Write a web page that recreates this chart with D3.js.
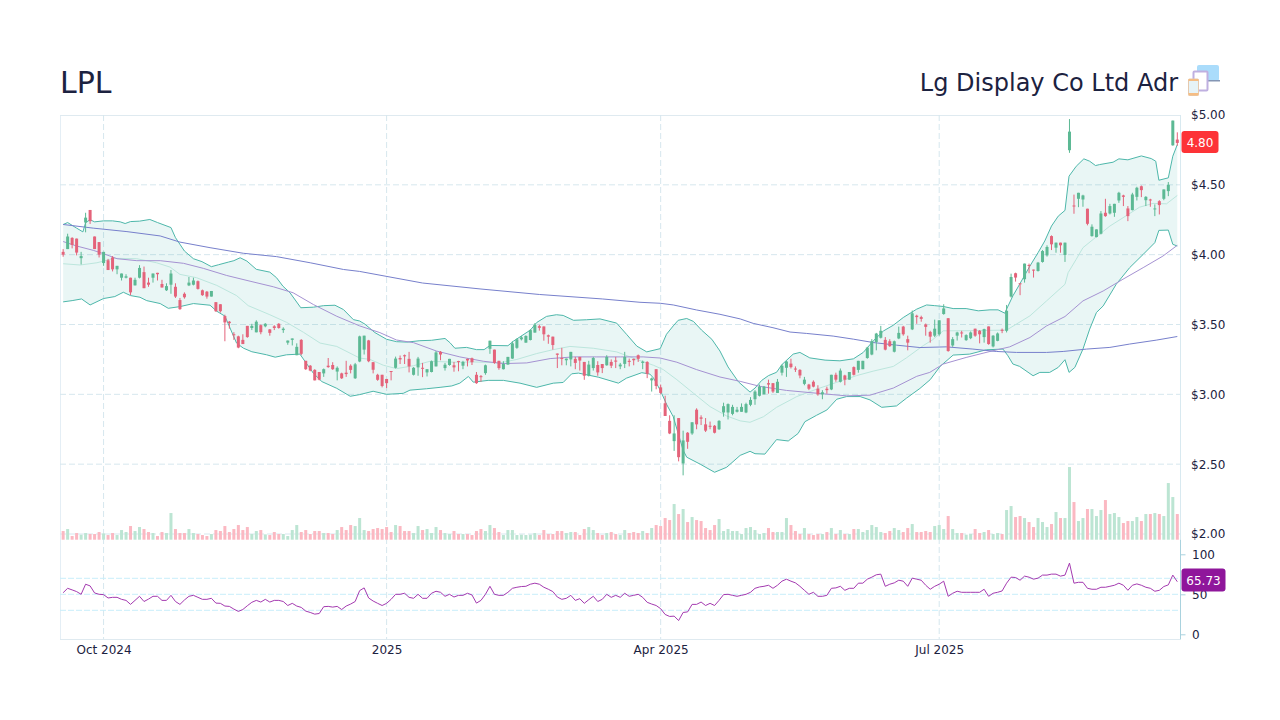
<!DOCTYPE html>
<html><head><meta charset="utf-8">
<script src="https://cdnjs.cloudflare.com/ajax/libs/d3/7.8.5/d3.min.js"></script>
<style>
html,body{margin:0;padding:0;background:#fff}
svg{display:block}
text{font-family:"DejaVu Sans",sans-serif}
</style></head><body>
<svg id="c" width="1280" height="720"></svg>
<script>
const symbol = "LPL";
const company = "Lg Display Co Ltd Adr";
const lastPrice = "4.80";
const lastRsi = "65.73";
const priceTicks = [5, 4.5, 4, 3.5, 3, 2.5, 2];
const rsiTicks = [100, 50, 0];
const rsiBands = [70, 50, 30];
const timeTickIndex = [9, 72, 133, 195];
const timeTickLabels = ["Oct 2024", "2025", "Apr 2025", "Jul 2025"];

const opens = [
4.02,4.04,4.12,4.115,3.975,4.23,4.32,4.13,4.09,3.94,
3.96,3.98,3.895,3.835,3.835,3.835,3.78,3.835,3.875,3.80,
3.835,3.87,3.79,3.745,3.785,3.77,3.675,3.72,3.78,3.785,
3.81,3.745,3.735,3.70,3.66,3.645,3.56,3.52,3.43,3.415,
3.39,3.49,3.475,3.444,3.495,3.487,3.465,3.487,3.505,3.46,
3.37,3.39,3.28,3.39,3.24,3.205,3.175,3.16,3.15,3.205,
3.21,3.163,3.15,3.155,3.205,3.115,3.235,3.32,3.386,3.23,
3.14,3.14,3.11,3.167,3.19,3.26,3.28,3.254,3.14,3.193,
3.19,3.157,3.16,3.20,3.304,3.188,3.21,3.208,3.238,3.205,
3.254,3.258,3.14,3.13,3.152,3.326,3.32,3.24,3.18,3.213,
3.256,3.333,3.394,3.37,3.389,3.442,3.488,3.486,3.423,3.413,
3.292,3.26,3.244,3.25,3.254,3.268,3.232,3.133,3.188,3.21,
3.217,3.208,3.232,3.242,3.20,3.218,3.24,3.254,3.28,3.225,
3.232,3.10,3.18,3.05,2.936,2.81,2.665,2.83,2.505,2.725,
2.72,2.89,2.835,2.785,2.775,2.775,2.75,2.87,2.87,2.86,
2.875,2.875,2.87,2.925,2.965,2.99,3.00,3.08,3.08,3.01,
3.155,3.19,3.22,3.185,3.175,3.075,3.07,3.09,3.04,3.00,
3.04,3.035,3.14,3.09,3.135,3.105,3.195,3.175,3.18,3.26,
3.285,3.375,3.405,3.39,3.38,3.305,3.40,3.485,3.395,3.465,
3.563,3.553,3.50,3.447,3.42,3.43,3.575,3.545,3.35,3.42,
3.443,3.388,3.402,3.47,3.455,3.41,3.486,3.343,3.383,3.462,
3.455,3.70,3.867,3.795,3.824,3.926,3.893,3.883,3.948,3.995,
4.133,4.05,4.086,3.998,4.748,4.352,4.40,4.395,4.329,4.133,
4.126,4.15,4.30,4.295,4.30,4.388,4.424,4.331,4.319,4.414,
4.49,4.39,4.395,4.324,4.383,4.40,4.455,4.783,4.824];
const closes = [
4.00,4.13,4.07,4.015,3.99,4.265,4.24,4.04,4.00,4.02,
3.89,3.895,3.92,3.865,3.845,3.73,3.82,3.905,3.76,3.785,
3.865,3.86,3.765,3.775,3.865,3.70,3.61,3.695,3.80,3.815,
3.755,3.71,3.70,3.74,3.595,3.595,3.515,3.51,3.425,3.335,
3.36,3.41,3.49,3.52,3.445,3.505,3.44,3.475,3.475,3.47,
3.385,3.40,3.34,3.29,3.18,3.17,3.10,3.105,3.18,3.195,
3.18,3.19,3.115,3.145,3.175,3.215,3.415,3.42,3.237,3.176,
3.104,3.06,3.08,3.16,3.256,3.25,3.272,3.20,3.19,3.256,
3.183,3.18,3.237,3.30,3.285,3.212,3.254,3.193,3.232,3.232,
3.242,3.23,3.08,3.123,3.208,3.384,3.225,3.188,3.217,3.268,
3.365,3.394,3.408,3.418,3.46,3.498,3.476,3.43,3.413,3.353,
3.283,3.254,3.256,3.304,3.225,3.242,3.133,3.213,3.26,3.157,
3.188,3.268,3.205,3.234,3.213,3.268,3.232,3.244,3.254,3.234,
3.147,3.114,3.06,3.01,2.845,2.72,2.72,2.55,2.67,2.66,
2.80,2.785,2.825,2.74,2.77,2.725,2.81,2.915,2.93,2.91,
2.89,2.91,2.93,2.96,3.02,3.055,3.055,3.07,3.02,3.09,
3.205,3.235,3.195,3.177,3.135,3.105,3.04,3.055,3.00,3.015,
3.03,3.14,3.105,3.17,3.105,3.16,3.14,3.24,3.24,3.335,
3.38,3.435,3.455,3.32,3.345,3.38,3.44,3.43,3.37,3.58,
3.553,3.54,3.483,3.413,3.47,3.53,3.615,3.31,3.395,3.443,
3.436,3.424,3.443,3.42,3.43,3.467,3.36,3.42,3.436,3.455,
3.598,3.84,3.836,3.788,3.936,3.919,3.886,3.943,4.026,4.055,
4.074,4.086,4.067,4.086,4.881,4.348,4.443,4.424,4.221,4.20,
4.181,4.295,4.276,4.348,4.364,4.443,4.414,4.276,4.431,4.479,
4.462,4.414,4.39,4.331,4.355,4.467,4.50,4.96,4.80];
const highs = [
4.04,4.15,4.125,4.115,4.02,4.30,4.32,4.13,4.09,4.02,
3.97,3.99,3.92,3.865,3.86,3.835,3.835,3.925,3.915,3.835,
3.865,3.87,3.82,3.795,3.89,3.795,3.69,3.73,3.84,3.835,
3.815,3.75,3.74,3.74,3.66,3.645,3.57,3.525,3.445,3.42,
3.43,3.49,3.505,3.53,3.50,3.51,3.467,3.495,3.51,3.48,
3.385,3.40,3.365,3.395,3.24,3.21,3.18,3.16,3.185,3.26,
3.23,3.20,3.155,3.24,3.215,3.225,3.42,3.42,3.39,3.232,
3.147,3.14,3.11,3.167,3.27,3.278,3.285,3.304,3.195,3.268,
3.225,3.18,3.242,3.31,3.31,3.225,3.254,3.232,3.24,3.24,
3.256,3.263,3.16,3.138,3.213,3.384,3.32,3.24,3.237,3.268,
3.38,3.40,3.418,3.423,3.466,3.51,3.498,3.486,3.428,3.413,
3.292,3.333,3.256,3.304,3.268,3.268,3.232,3.24,3.268,3.237,
3.217,3.28,3.25,3.268,3.225,3.304,3.256,3.256,3.285,3.242,
3.237,3.12,3.18,3.07,2.99,2.85,2.85,2.83,2.74,2.73,
2.80,2.90,2.85,2.83,2.805,2.78,2.815,2.94,2.935,2.925,
2.91,2.935,2.94,2.98,3.03,3.07,3.06,3.105,3.08,3.11,
3.215,3.24,3.255,3.20,3.18,3.125,3.075,3.10,3.065,3.03,
3.055,3.14,3.155,3.185,3.14,3.16,3.20,3.24,3.24,3.34,
3.395,3.44,3.49,3.41,3.395,3.385,3.485,3.49,3.42,3.60,
3.57,3.563,3.507,3.455,3.535,3.53,3.645,3.545,3.41,3.448,
3.455,3.43,3.45,3.47,3.46,3.47,3.486,3.424,3.443,3.471,
3.64,3.864,3.871,3.795,3.936,3.936,3.893,3.948,4.033,4.067,
4.138,4.086,4.086,4.086,4.971,4.43,4.443,4.429,4.329,4.217,
4.181,4.312,4.40,4.364,4.364,4.45,4.429,4.348,4.443,4.486,
4.495,4.419,4.40,4.36,4.39,4.467,4.52,4.96,4.876];
const lows = [
3.985,4.04,4.045,3.995,3.93,4.16,4.22,4.04,3.98,3.92,
3.89,3.88,3.86,3.815,3.83,3.71,3.78,3.83,3.76,3.77,
3.80,3.815,3.765,3.74,3.72,3.69,3.605,3.685,3.775,3.78,
3.75,3.705,3.685,3.70,3.59,3.585,3.38,3.47,3.39,3.33,
3.36,3.405,3.46,3.444,3.43,3.48,3.42,3.46,3.47,3.44,
3.355,3.35,3.28,3.28,3.175,3.165,3.10,3.10,3.125,3.19,
3.175,3.10,3.11,3.125,3.15,3.11,3.23,3.285,3.23,3.15,
3.097,3.05,3.045,3.10,3.185,3.217,3.217,3.157,3.135,3.133,
3.123,3.128,3.157,3.20,3.244,3.17,3.205,3.162,3.165,3.18,
3.20,3.21,3.075,3.09,3.14,3.29,3.218,3.176,3.178,3.212,
3.254,3.326,3.386,3.37,3.386,3.442,3.456,3.384,3.362,3.32,
3.188,3.208,3.208,3.20,3.18,3.17,3.104,3.128,3.17,3.133,
3.152,3.205,3.188,3.188,3.18,3.188,3.20,3.208,3.232,3.18,
3.116,3.02,3.036,3.00,2.845,2.715,2.595,2.52,2.42,2.61,
2.71,2.75,2.78,2.73,2.75,2.72,2.745,2.84,2.82,2.85,
2.87,2.875,2.865,2.915,2.925,2.985,3.00,3.005,3.01,3.01,
3.135,3.125,3.185,3.16,3.115,3.065,3.03,3.05,2.99,2.965,
3.005,3.03,3.09,3.085,3.065,3.105,3.135,3.155,3.18,3.255,
3.28,3.315,3.40,3.315,3.34,3.30,3.395,3.42,3.315,3.46,
3.505,3.52,3.42,3.37,3.41,3.42,3.57,3.305,3.34,3.385,
3.407,3.383,3.395,3.412,3.365,3.37,3.355,3.336,3.38,3.438,
3.443,3.693,3.807,3.71,3.80,3.867,3.836,3.879,3.943,3.986,
4.033,4.014,4.014,3.948,4.729,4.293,4.34,4.343,4.21,4.129,
4.124,4.145,4.271,4.288,4.271,4.371,4.348,4.24,4.317,4.388,
4.412,4.348,4.343,4.276,4.288,4.39,4.419,4.78,4.78];
const volumes = [
26,32,11,20,15,20,17,17,23,19,
14,20,14,29,23,41,26,38,32,23,
20,11,23,20,80,32,20,20,32,20,
17,14,11,17,29,26,41,23,32,44,
29,38,17,26,29,16,14,23,17,17,
11,29,44,23,29,17,26,26,20,20,
17,29,38,29,44,41,65,29,26,32,
35,32,38,23,44,41,26,26,20,41,
29,32,20,38,29,20,17,26,17,17,
17,14,26,32,26,44,35,23,14,29,
29,14,15,14,15,20,14,29,17,17,
26,26,20,23,23,14,32,38,29,20,
14,20,23,17,14,29,20,23,20,26,
20,35,44,41,65,59,107,77,92,53,
68,59,56,35,29,44,62,26,32,26,
26,17,35,38,29,17,20,35,23,23,
23,65,44,26,17,35,17,14,17,17,
23,35,17,29,17,17,32,32,23,29,
44,38,23,20,26,35,29,23,35,47,
23,23,26,23,41,44,32,71,32,20,
20,15,17,32,20,23,29,17,20,17,
89,101,68,71,65,53,38,65,53,38,
47,83,65,65,218,113,56,65,92,92,
71,89,119,77,80,68,50,56,56,68,
56,77,77,80,77,71,170,128,77];
const rsi = [
52,57.5,55.5,53.4,50,62.6,60.5,51.7,50,49.6,
45.4,46.2,46.2,43.7,42.4,37.4,42.4,47.5,41,44,
47.5,47.5,42.4,42.4,48.7,41,37.4,42.9,47.5,48.7,
46.2,43.7,43.7,45,39,38.7,35.3,34.9,31.5,28.6,
31,35.7,40,42.4,40.3,43.7,40.3,42.4,42.4,41,
36,38.7,35.3,33.6,29,27.3,25.2,26,34.5,34.9,
34,34.9,31,35.3,37.8,41,54.6,58,45.4,41.6,
38.7,36,38.7,43.7,50,50,51.3,46.2,45,50,
45,45,51.3,53.8,52.5,47.5,50,46.6,48.7,48.7,
51.3,49.2,39,42.4,50,60,50,48.7,48.7,52.5,
57.5,58.8,59.7,60,62.6,63.9,62.6,58.8,56.3,53.4,
46.6,43.7,45,48.7,42.4,44.5,38.7,43.3,47.5,41,
43.7,50,46.2,48.7,46.2,51.3,47.5,48.7,50,46.2,
40,37.8,36,32,24.8,22.3,22.7,17.2,27.3,28,
37.4,37.4,40.3,36,38.7,36,42.4,49.6,50,48.7,
47.5,48.7,50,52.5,57.5,59.2,60,61.3,57.5,61.3,
66.4,68.9,66.4,64.3,60,55,50,52.5,47.5,47.5,
48.7,57.5,58,60,55,57.5,57.5,63.9,63.9,68.9,
71.4,74.4,75.2,60,62.6,64.3,67.6,66.4,60,70.2,
68.9,67.6,61.3,56.3,60,62.6,66.4,47.5,51.3,53.8,
52.5,52.5,52.5,52.5,52.5,56.3,47.5,51.3,52.5,54.2,
63.9,71.4,71,67.6,72.7,71.4,68.9,70.2,74,74,
75.2,75.2,72.7,74,89,63.9,65,65,57.5,56.3,
56.3,58.8,58.8,60,61.3,63.9,61.3,55,61.3,63,
61.3,58.8,57.5,53.8,55,59.7,61.8,74,65.73];

const bbUpperAt = [0,1,2,3,4.4,5,6,7,9,11,12.7,13.8,15,17,19.3,21,24,25,27,29,30.9,33,34.6,36.8,38,39.4,40.9,43,46,47.5,48.9,50.5,52.9,55.7,58,60.5,62.4,64.6,66,67.2,69.4,72,74.2,76.5,79.4,82,85,86.1,87.2,89.8,92,93.7,95,99,100.2,104,105.4,107.6,109.8,111.3,113.6,116.5,119.5,123.2,125.4,127.7,129.9,132.9,134.3,135.8,136.9,138.8,140.3,142.1,144.4,146.2,148,150.3,152.9,154,155.5,157,158.8,160,162.5,164,166.2,169.6,172.9,175.9,178.1,180.3,182.6,184.8,187,190,192.2,194,195.9,198.1,201,203.7,206.3,208.1,209.6,210,211.4,212.9,215.2,217,218.5,220,221.5,223,223.9,225.5,227.2,228.5,229.8,230.7,233.7,235,237,240,242.2,243.2,243.9,246,247,248];
const bbUpper = [4.216,4.23,4.21,4.19,4.163,4.23,4.25,4.235,4.242,4.242,4.235,4.223,4.237,4.24,4.252,4.23,4.194,4.122,4.026,3.971,3.95,3.914,3.928,3.947,3.957,3.978,3.954,3.895,3.875,3.835,3.775,3.727,3.62,3.624,3.635,3.638,3.607,3.535,3.525,3.502,3.442,3.394,3.377,3.374,3.384,3.387,3.40,3.37,3.33,3.336,3.32,3.32,3.35,3.348,3.38,3.46,3.514,3.558,3.57,3.565,3.53,3.534,3.54,3.51,3.43,3.345,3.304,3.327,3.43,3.49,3.53,3.543,3.522,3.46,3.394,3.31,3.196,3.09,3.016,3.045,3.10,3.134,3.158,3.213,3.288,3.30,3.261,3.245,3.24,3.254,3.30,3.382,3.454,3.495,3.55,3.61,3.64,3.635,3.629,3.614,3.614,3.598,3.605,3.605,3.581,3.61,3.705,3.788,3.919,4.014,4.098,4.205,4.276,4.317,4.562,4.633,4.686,4.669,4.638,4.645,4.662,4.686,4.679,4.707,4.688,4.669,4.533,4.55,4.705,4.788];
const bbLowerAt = [0,2,4.1,6,9,11.5,13.4,15,17.1,18.6,21.6,23.4,26,29,32.7,34.2,36,38.6,40.1,42,45.3,47.2,49.7,52.7,55.7,57.6,60.9,63.9,66,69,72,75.7,77.2,80.9,83.9,86.5,88.3,90.2,91.3,94.6,98,101.7,105.4,109.1,111.3,113.2,114.7,119.1,123.6,125.4,128.8,130.6,131.4,132.9,134.3,135.8,136.9,138,138.8,141.8,145,147.7,150.7,152.9,154,156.2,158.8,161.4,163.6,165.1,167.7,170,172.2,174.4,177.4,179.6,182.2,185.5,187.7,190.7,193,195.2,198.1,201.8,205.5,209.2,210.3,211.4,212.9,215.9,217.4,219.6,221.5,223,223.9,225.2,227,228.5,230,231.5,234.4,237.4,240.4,243,243.9,246,247,248];
const bbLower = [3.662,3.671,3.683,3.64,3.686,3.70,3.731,3.707,3.695,3.671,3.65,3.616,3.628,3.65,3.638,3.595,3.56,3.367,3.331,3.305,3.283,3.266,3.283,3.288,3.151,3.091,3.043,2.986,2.998,3.022,3.0,3.007,3.03,3.04,3.05,3.06,3.08,3.128,3.087,3.10,3.10,3.08,3.05,3.08,3.085,3.147,3.152,3.123,3.08,3.116,3.155,3.145,3.117,3.03,2.93,2.84,2.72,2.60,2.55,2.50,2.442,2.478,2.563,2.592,2.575,2.572,2.676,2.666,2.72,2.804,2.85,2.888,2.965,2.984,2.984,2.96,2.907,2.917,2.972,3.042,3.105,3.20,3.281,3.288,3.319,3.324,3.276,3.217,3.20,3.133,3.157,3.157,3.193,3.248,3.157,3.193,3.324,3.467,3.586,3.633,3.788,3.907,4.002,4.086,4.174,4.176,4.074,4.062];
const bbMidAt = [0,3.8,7.5,9,11.2,16.4,20.8,23.8,26,29.7,34.2,38.6,41.2,46,49.7,53.5,57.2,60.9,66,68.3,71.3,74.2,78,81.7,86.9,91.3,97.2,101,105.4,109.1,112.8,118,123.2,127.7,131.4,133.6,136.6,140.3,144,147.7,150.7,152.9,155.9,158.8,163.3,167.7,172.2,176.6,180.3,184.8,187.7,191.5,193.5,195.9,200.3,210,215.2,218.9,223,223.7,225.5,227,229.3,233,235.9,239.6,242.6,245.6,248];
const bbMid = [3.935,3.926,3.942,3.954,3.974,3.971,3.942,3.911,3.859,3.835,3.78,3.707,3.635,3.57,3.516,3.444,3.367,3.343,3.26,3.25,3.208,3.184,3.205,3.237,3.23,3.232,3.225,3.25,3.292,3.32,3.343,3.33,3.304,3.25,3.208,3.177,3.105,3.008,2.912,2.845,2.81,2.80,2.84,2.907,2.984,3.037,3.086,3.134,3.166,3.20,3.261,3.35,3.39,3.455,3.455,3.46,3.562,3.669,3.788,3.871,3.967,4.05,4.11,4.205,4.264,4.34,4.367,4.364,4.424];
const sma50At = [0,3,6.7,9,12,16.4,21.6,26.8,31.2,36.4,41.6,46.8,51.2,55.7,60.9,66,70.5,74.2,78,83.1,88.3,93.5,98,103.2,108.4,113.6,118.8,124,129.1,132.9,136.6,141,146.2,150.7,155.1,161,167.7,174.4,179.6,184.8,190,192.9,195.9,201,206.3,210.7,215.2,218.9,223,227,231.5,235.9,240.4,244.8,248];
const sma50 = [4.094,4.062,4.031,4.007,3.971,3.957,3.957,3.938,3.902,3.851,3.81,3.77,3.727,3.643,3.559,3.49,3.442,3.389,3.37,3.31,3.268,3.237,3.22,3.225,3.256,3.268,3.268,3.268,3.268,3.26,3.23,3.177,3.124,3.093,3.057,3.028,3.008,2.989,2.994,3.045,3.129,3.157,3.217,3.264,3.307,3.34,3.407,3.49,3.557,3.669,3.74,3.824,3.907,3.99,4.067];
const sma200At = [0,6.7,14.2,21.6,26,32.7,40.1,47.5,55,62.4,66,80,93,106,120,128.4,132.9,135.8,141,146.2,150.7,153.6,158,161.8,165.5,171.4,175.9,180.3,185.5,190.7,196.6,202.5,207.7,212.2,218.9,222.6,227.8,233,237.4,243.3,248];
const sma200 = [4.216,4.19,4.165,4.134,4.09,4.05,4.01,3.986,3.942,3.894,3.88,3.797,3.754,3.715,3.683,3.659,3.652,3.64,3.604,3.573,3.54,3.508,3.477,3.446,3.436,3.417,3.395,3.371,3.352,3.335,3.34,3.324,3.307,3.30,3.30,3.307,3.324,3.336,3.36,3.388,3.414];

const svg = d3.select("#c");
const L=60, R=1180, T=115, VB=539.7, B=639.5;
const x = d3.scaleLinear().domain([-0.7,248.6]).range([L,R]);
const y = d3.scaleLinear().domain([2,5]).range([534,115]);
const yVol = d3.scaleLinear().domain([0,300]).range([VB,VB-100]);
const yRsi = d3.scaleLinear().domain([0,100]).range([634.3,554.3]);
const GREEN="#5cb994", RED="#e4637a", VGREEN="#bce5d3", VRED="#fbb8c2";
const GRID="#d6e7ee", TXT="#1c2240";

// frame
svg.append("line").attr("x1",L+.5).attr("x2",L+.5).attr("y1",T).attr("y2",B).attr("stroke","#e4eef5");
svg.append("line").attr("x1",L).attr("x2",R).attr("y1",T+.5).attr("y2",T+.5).attr("stroke","#dfeaf0");

// grid
svg.append("g").selectAll("line").data(timeTickIndex).join("line")
 .attr("x1",d=>x(d)).attr("x2",d=>x(d)).attr("y1",T).attr("y2",B)
 .attr("stroke",GRID).attr("stroke-dasharray","6,3");
svg.append("g").selectAll("line").data(priceTicks.slice(1)).join("line")
 .attr("x1",L).attr("x2",R).attr("y1",d=>y(d)).attr("y2",d=>y(d))
 .attr("stroke",GRID).attr("stroke-dasharray","6,3");
svg.append("g").selectAll("line").data(rsiBands).join("line")
 .attr("x1",L).attr("x2",R).attr("y1",d=>yRsi(d)).attr("y2",d=>yRsi(d))
 .attr("stroke","#c9eefb").attr("stroke-dasharray","6,2");

// volume
const idx = d3.range(opens.length);
svg.append("g").selectAll("rect").data(idx).join("rect")
 .attr("x",i=>x(i)-1.5).attr("width",3)
 .attr("y",i=>yVol(volumes[i])).attr("height",i=>VB-yVol(volumes[i]))
 .attr("fill",i=>closes[i]>=opens[i]?VGREEN:VRED);

// bollinger
const pts=(at,v)=>at.map((a,i)=>[x(a),y(v[i])]);
const up=pts(bbUpperAt,bbUpper), lo=pts(bbLowerAt,bbLower), md=pts(bbMidAt,bbMid);
const ln=d3.line();
svg.append("path").attr("d",ln(up.concat(lo.slice().reverse()))+"Z").attr("fill","#26a69a").attr("fill-opacity",.1);
const addLine=(p,c,w)=>svg.append("path").attr("d",ln(p)).attr("fill","none").attr("stroke",c).attr("stroke-width",w).attr("stroke-linejoin","round");
addLine(md,"#bce6dd",1);
addLine(up,"#4db7aa",1);
addLine(lo,"#4db7aa",1);
addLine(pts(sma50At,sma50),"#a592d2",1);
addLine(pts(sma200At,sma200),"#7780cc",1);

// candles
const cg=svg.append("g");
cg.selectAll("line").data(idx).join("line")
 .attr("x1",i=>x(i)).attr("x2",i=>x(i)).attr("y1",i=>y(highs[i])).attr("y2",i=>y(lows[i]))
 .attr("stroke",i=>closes[i]>=opens[i]?GREEN:RED).attr("stroke-width",1);
cg.selectAll("rect").data(idx).join("rect")
 .attr("x",i=>x(i)-1.5).attr("width",3)
 .attr("y",i=>y(Math.max(opens[i],closes[i])))
 .attr("height",i=>Math.max(1,Math.abs(y(opens[i])-y(closes[i]))))
 .attr("fill",i=>closes[i]>=opens[i]?GREEN:RED);

// rsi
svg.append("path").datum(rsi)
 .attr("d",d3.line().x((d,i)=>x(i)).y(d=>yRsi(d)))
 .attr("fill","none").attr("stroke","#a43ab0").attr("stroke-width",1);

// axes
const styleAxis=g=>{g.selectAll("text").attr("fill",TXT).style("font-size","12px").style("font-family",'"DejaVu Sans",sans-serif');};
const ax1=svg.append("g").attr("transform",`translate(${R+.5},0)`)
 .call(d3.axisRight(y).tickValues(priceTicks).tickSize(0).tickPadding(10.5).tickFormat(d=>"$"+d.toFixed(2)));
ax1.select(".domain").attr("stroke","#d8e9f0").attr("d",`M0,${T}V${VB}`);
styleAxis(ax1);
const ax2=svg.append("g").attr("transform",`translate(${R+.5},0)`)
 .call(d3.axisRight(yRsi).tickValues(rsiTicks).tickSize(5).tickPadding(6.5));
ax2.select(".domain").attr("stroke","#a9d2de").attr("d",`M0,${VB}V${B}`);
ax2.selectAll("line").attr("stroke","#a9d2de");
styleAxis(ax2);
const ax3=svg.append("g").attr("transform",`translate(0,${B})`)
 .call(d3.axisBottom(x).tickValues(timeTickIndex).tickSize(0).tickPadding(6).tickFormat((d,i)=>timeTickLabels[i]));
ax3.select(".domain").attr("stroke","#dfeaf0").attr("d",`M${L},0H${R}`);
styleAxis(ax3);

// badges
const badge=(bx,by,w,h,fill,txt)=>{
 svg.append("rect").attr("x",bx).attr("y",by).attr("width",w).attr("height",h).attr("rx",3).attr("fill",fill);
 svg.append("text").attr("x",bx+w/2).attr("y",by+h/2+4.5).attr("text-anchor","middle").attr("fill","#fff").style("font-size","12px").text(txt);
};
badge(1181.5,131,37,22,"#fd3337",lastPrice);
badge(1181.5,568.5,44,23,"#8f169b",lastRsi);

// titles
svg.append("text").attr("x",60).attr("y",93).attr("fill",TXT).style("font-size","30px").text(symbol);
svg.append("text").attr("x",1178).attr("y",91).attr("text-anchor","end").attr("fill",TXT).style("font-size","24px").text(company);

// device icon
const ic=svg.append("g");
ic.append("rect").attr("x",1197).attr("y",65).attr("width",22).attr("height",16).attr("rx",2).attr("fill","#aadcfb");
ic.append("rect").attr("x",1193).attr("y",80).attr("width",27).attr("height",1.5).attr("fill","#8496b4");
ic.append("rect").attr("x",1193.5).attr("y",71.5).attr("width",14).attr("height",19).attr("rx",1).attr("fill","#fff").attr("stroke","#bfb0e0").attr("stroke-width",2);
ic.append("rect").attr("x",1188.5).attr("y",79).attr("width",10).attr("height",16.5).attr("rx",1).attr("fill","#e6f3f7").attr("stroke","#e5c9ae");
ic.append("rect").attr("x",1188.5).attr("y",79).attr("width",10).attr("height",2).attr("fill","#f5bd84");
ic.append("rect").attr("x",1188.5).attr("y",93).attr("width",10).attr("height",2.5).attr("fill","#f5bd84");
</script>
</body></html>
